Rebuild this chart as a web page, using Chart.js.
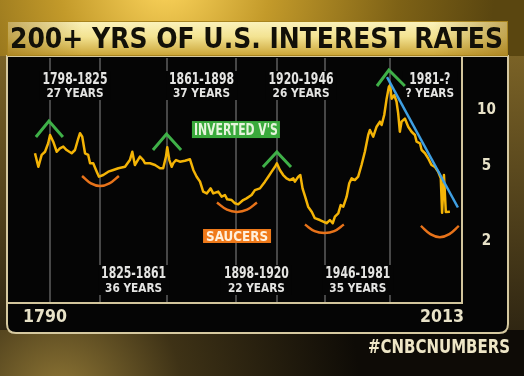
<!DOCTYPE html>
<html><head><meta charset="utf-8">
<script src="https://cdn.jsdelivr.net/npm/chart.js@4.4.0/dist/chart.umd.min.js"></script>
<style>html,body{margin:0;padding:0;background:#000;overflow:hidden}canvas{display:block}</style>
</head><body>
<canvas id="c" width="524" height="376"></canvas>
<script>
const chartTitle = '200+ YRS OF U.S. INTEREST RATES';
const footerTag = '#CNBCNUMBERS';

const years = [
  1790,1791.8,1793.6,1795.4,1797.1,1798.1,1799.8,1801.7,1803.4,1805.2,
  1807,1809.7,1811.5,1813.3,1814.2,1815.4,1816.9,1818.6,1819.6,1821.3,
  1823.2,1824.4,1826.7,1829.4,1832.1,1834.8,1838.4,1841,1842.3,1843.7,
  1846.4,1848.2,1849.1,1851.8,1854.5,1857.2,1858.9,1860.4,1861.1,1862.2,
  1863.5,1864.3,1865.8,1867.9,1870.6,1873.3,1875.1,1876.9,1878.7,1880.4,
  1882.3,1884.4,1885.8,1888.5,1890.3,1892.1,1893.3,1895.7,1897.5,1899.2,
  1901.9,1903.7,1906.4,1908.2,1910.9,1913.6,1915.4,1917.2,1919,1920,
  1921.6,1923.4,1925.2,1927,1928.8,1929.7,1931.5,1932.6,1933.8,1935.2,
  1936.8,1938.8,1940.4,1943.1,1944.9,1946.7,1948.5,1950,1951.2,1953,
  1954.3,1955.7,1957.5,1958.9,1960.2,1961.9,1963.7,1965.5,1967.3,1969.1,
  1970,1971.8,1973.6,1975.4,1976.3,1977.7,1979,1980.2,1980.9,1981.7,
  1983.1,1984.3,1985.2,1986.1,1987,1988.8,1990.6,1992.4,1994.2,1995.1,
  1996.9,1997.8,1999.6,2001.3,2003.1,2004.9,2006.7,2008.1,2008.8,2009.8,
  2010.8,2013
];
const rates = [
  5.87,4.97,5.75,5.98,6.64,7.35,6.77,5.98,6.24,6.37,
  6.11,5.87,6.11,7.06,7.51,7.20,5.87,5.75,5.19,5.19,
  4.68,4.40,4.49,4.68,4.78,4.88,4.97,5.40,5.98,5.08,
  5.63,5.40,5.19,5.19,5.08,4.88,4.88,5.63,6.32,5.40,
  4.97,5.19,5.40,5.29,5.35,5.45,4.78,4.40,4.14,3.66,
  3.58,3.81,3.58,3.66,3.44,3.51,3.33,3.30,3.17,3.13,
  3.30,3.37,3.51,3.73,3.81,4.14,4.40,4.68,4.97,5.19,
  4.78,4.49,4.31,4.22,4.31,4.14,4.40,4.49,3.81,3.44,
  3.04,2.85,2.64,2.58,2.53,2.48,2.58,2.48,2.69,2.80,
  3.10,3.04,3.44,4.06,4.31,4.22,4.40,5.08,5.98,7.35,
  7.82,7.20,8.14,8.66,8.31,9.40,11.5,13.3,13.6,11.5,
  12.0,11.1,9.6,7.65,8.66,9.0,8.14,7.65,7.35,6.77,
  6.64,6.11,5.87,5.52,5.08,4.97,4.68,4.31,2.82,4.49,
  2.85,2.86
];

const gridYears = [1798,1825,1861,1898,1920,1946,1981];
const yTicks = [2,5,10];
const xTickLabels = ['1790','2013'];

const periodRange = ['1798-1825','1825-1861','1861-1898','1898-1920','1920-1946','1946-1981','1981-?'];
const periodLength = ['27 YEARS','36 YEARS','37 YEARS','22 YEARS','26 YEARS','35 YEARS','? YEARS'];
const periodMid = [1811.5,1843,1879.5,1909,1933,1963.5,2002.2];
const periodSide = ['top','bottom','top','bottom','top','bottom','top'];

const caretYears = [[1790.5,1797.5,1805.0],[1853.4,1860.7,1868.5],[1912.5,1920.0,1927.6],[1973.8,1980.2,1988.8]];
const caretValues = [[7.17,8.73,7.17],[6.11,7.44,6.11],[4.96,5.96,4.96],[13.44,16.36,13.44]];

const saucerYears = [[1815.3,1820.1,1824.9,1830.0,1835.1],[1887.8,1893.2,1898.6,1904.0,1909.3],[1935.1,1940.3,1945.6,1950.8,1956.0],[1997.4,2002.5,2007.6,2012.7,2017.8]];
const saucerValues = [[4.44,4.05,3.92,4.05,4.44],[3.20,2.93,2.85,2.93,3.20],[2.44,2.25,2.20,2.25,2.44],[2.40,2.17,2.09,2.17,2.40]];

const trendYears = [1979.2,2017.3];
const trendValues = [15.0,3.01];

const noteText = ["INVERTED V'S",'SAUCERS'];
const noteYears = [1898,1898.6];
const noteValues = [7.86,2.12];

const FONT = "'DejaVu Sans Condensed','DejaVu Sans',sans-serif";
const pts = (xs, ys) => xs.map((x,i) => ({x, y: ys[i]}));

function fitText(ctx, s, x, y, size, color, align, targetW) {
  ctx.save();
  ctx.font = 'bold ' + size + 'px ' + FONT;
  ctx.fillStyle = color;
  ctx.textBaseline = 'alphabetic';
  const w = ctx.measureText(s).width;
  const sx = targetW ? targetW / w : 1;
  ctx.translate(x, y);
  ctx.scale(sx, 1);
  ctx.textAlign = align || 'center';
  ctx.fillText(s, 0, 0);
  ctx.restore();
  return w * sx;
}
function scaleFor(ctx, ref, size, target) {
  ctx.save(); ctx.font = 'bold ' + size + 'px ' + FONT;
  const w = ctx.measureText(ref).width; ctx.restore();
  return target / w;
}

const backdrop = {
  id: 'backdrop',
  beforeDraw(chart) {
    const ctx = chart.ctx, W = chart.width, H = chart.height;
    ctx.save();
    ctx.fillStyle = '#1c1608'; ctx.fillRect(0,0,W,H);
    let g = ctx.createRadialGradient(165, -20, 10, 165, -20, 330);
    g.addColorStop(0, '#f8d058'); g.addColorStop(0.3, '#c39a2a'); g.addColorStop(0.7, '#7e6216'); g.addColorStop(1, '#5a4610');
    ctx.fillStyle = g; ctx.fillRect(0,0,W,60);
    g = ctx.createLinearGradient(0,56,0,336);
    g.addColorStop(0,'#7a6226'); g.addColorStop(1,'#2e2512');
    ctx.fillStyle = g; ctx.fillRect(0,56,W,280);
    g = ctx.createRadialGradient(60, H+20, 5, 60, H+20, 300);
    g.addColorStop(0,'#8c7434'); g.addColorStop(0.4,'#3e3216'); g.addColorStop(1,'#0e0b06');
    ctx.fillStyle = g; ctx.fillRect(0,330,W,H-330);
    // panel
    const l=7, r=508, t=56, b=333, rad=9;
    ctx.beginPath(); ctx.moveTo(l,t); ctx.lineTo(r,t); ctx.lineTo(r,b-rad);
    ctx.quadraticCurveTo(r,b,r-rad,b); ctx.lineTo(l+rad,b); ctx.quadraticCurveTo(l,b,l,b-rad); ctx.closePath();
    ctx.fillStyle = '#050505'; ctx.fill();
    ctx.lineWidth = 2; ctx.strokeStyle = '#d6c9a0'; ctx.stroke();
    // title bar
    const tl=7, tr=508, tt=21, tb=56;
    g = ctx.createLinearGradient(0,tt,0,tb);
    g.addColorStop(0,'#fbf3be'); g.addColorStop(0.45,'#f3e392'); g.addColorStop(1,'#c9a233');
    ctx.fillStyle = g; ctx.fillRect(tl,tt,tr-tl,tb-tt);
    g = ctx.createLinearGradient(tl,0,tr,0);
    g.addColorStop(0,'rgba(150,110,20,0.55)'); g.addColorStop(0.15,'rgba(150,110,20,0)');
    g.addColorStop(0.85,'rgba(150,110,20,0)'); g.addColorStop(1,'rgba(150,110,20,0.55)');
    ctx.fillStyle = g; ctx.fillRect(tl,tt,tr-tl,tb-tt);
    ctx.strokeStyle = '#a8841e'; ctx.lineWidth = 1; ctx.strokeRect(tl+0.5,tt+0.5,tr-tl-1,tb-tt-1);
    ctx.restore();
    fitText(ctx, chartTitle, (tl+tr)/2 - 1, 48, 27.5, '#121008', 'center', 493);
  },
  beforeDatasetsDraw(chart) {
    const ctx = chart.ctx, ca = chart.chartArea, xs = chart.scales.x, ys = chart.scales.y;
    const s1 = scaleFor(ctx, periodRange[0], 15, 65);
    const s2 = scaleFor(ctx, periodLength[0], 13, 57);
    periodRange.forEach((p, i) => {
      const cx = xs.getPixelForValue(periodMid[i]);
      const top = periodSide[i] === 'top';
      const b1 = top ? ca.top + 26 : ca.bottom - 25;
      const b2 = b1 + (top ? 13 : 14);
      ctx.save();
      ctx.font = 'bold 15px ' + FONT;
      const w = Math.max(ctx.measureText(p).width * s1, 0);
      ctx.font = 'bold 13px ' + FONT;
      const w2 = ctx.measureText(periodLength[i]).width * s2;
      const ww = Math.max(w, w2) + 6;
      ctx.fillStyle = '#050505';
      ctx.fillRect(cx - ww/2, b1 - 13, ww, b2 - b1 + 16);
      ctx.restore();
      ctx.save(); ctx.font = 'bold 15px ' + FONT;
      fitText(ctx, p, cx, b1, 15, '#e4e4e2', 'center', ctx.measureText(p).width * s1);
      ctx.font = 'bold 13px ' + FONT;
      fitText(ctx, periodLength[i], cx, b2, 13, '#e4e4e2', 'center', ctx.measureText(periodLength[i]).width * s2);
      ctx.restore();
    });
    // note boxes
    const boxW = [88, 68], boxH = [17, 14], boxC = ['#3aaa3c', '#f07a1a'], txtC = ['#e6f4dc', '#fff0dc'];
    const txtW = [84, 62], txtS = [15, 14];
    noteText.forEach((t, i) => {
      const cx = xs.getPixelForValue(noteYears[i]);
      const cy = ys.getPixelForValue(noteValues[i]);
      ctx.save();
      ctx.fillStyle = boxC[i];
      ctx.fillRect(cx - boxW[i]/2, cy - boxH[i]/2, boxW[i], boxH[i]);
      ctx.restore();
      fitText(ctx, t, cx, cy + txtS[i]*0.37, txtS[i], txtC[i], 'center', txtW[i]);
    });
  },
  afterDraw(chart) {
    const ctx = chart.ctx, ca = chart.chartArea;
    ctx.save();
    ctx.strokeStyle = '#d2c59c'; ctx.lineWidth = 2;
    ctx.beginPath();
    ctx.moveTo(ca.left, ca.bottom); ctx.lineTo(ca.right, ca.bottom); ctx.lineTo(ca.right, ca.top - 2);
    ctx.stroke();
    ctx.restore();
    fitText(ctx, xTickLabels[0], ca.left + 15, ca.bottom + 19, 17, '#e8e2c8', 'left', 44);
    fitText(ctx, xTickLabels[1], ca.right + 2, ca.bottom + 19, 17, '#e8e2c8', 'right', 44);
    fitText(ctx, footerTag, 510, 353, 20, '#eee6c6', 'right', 142);
  }
};

const datasets = [
  { data: pts(trendYears, trendValues), borderColor: '#3f9fe2', borderWidth: 2.5 },
  { data: pts(years, rates), borderColor: '#f4b406', borderWidth: 2.5, borderJoinStyle: 'round' },
];
caretYears.forEach((xs, i) => datasets.push({ data: pts(xs, caretValues[i]), borderColor: '#3fb048', borderWidth: 3, borderJoinStyle: 'miter' }));
saucerYears.forEach((xs, i) => datasets.push({ data: pts(xs, saucerValues[i]), borderColor: '#e8731a', borderWidth: 2.5, tension: 0.4 }));
datasets.forEach(d => { d.pointRadius = 0; d.pointHoverRadius = 0; d.fill = false; });

new Chart(document.getElementById('c'), {
  type: 'line',
  data: { datasets },
  options: {
    responsive: false,
    animation: false,
    devicePixelRatio: 1,
    events: [],
    layout: { padding: { left: 8, top: 58, right: 14, bottom: 73 } },
    plugins: { legend: { display: false }, tooltip: { enabled: false }, title: { display: false } },
    scales: {
      x: {
        type: 'linear', min: 1775.5, max: 2019.5,
        afterBuildTicks: s => { s.ticks = gridYears.map(v => ({ value: v })); },
        afterFit: s => { s.height = 0; },
        ticks: { display: false },
        grid: { color: '#474747', lineWidth: 2, drawTicks: false },
        border: { display: false }
      },
      y: {
        type: 'logarithmic', position: 'right', min: 0.929, max: 18.97,
        afterBuildTicks: s => { s.ticks = yTicks.map(v => ({ value: v })); },
        afterFit: s => { s.width = 48; },
        ticks: { callback: v => String(v), color: '#e8e2c8', font: { family: FONT, size: 15, weight: 'bold' }, crossAlign: 'center', padding: 15 },
        grid: { display: false, drawTicks: false },
        border: { display: false }
      }
    }
  },
  plugins: [backdrop]
});
</script>
</body></html>
